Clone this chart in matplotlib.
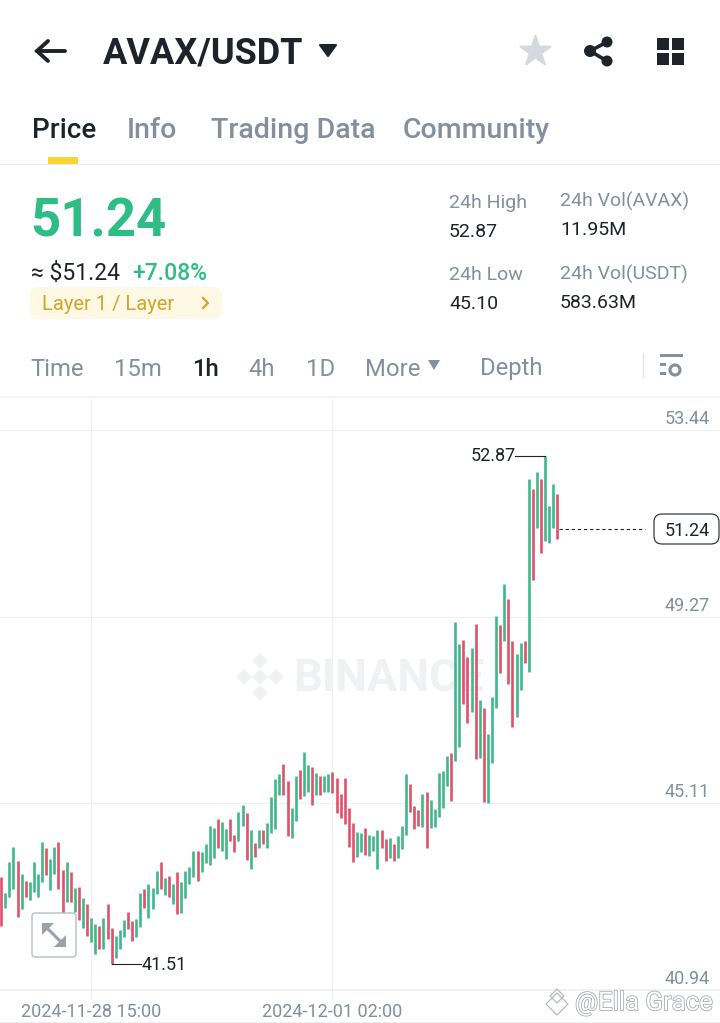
import matplotlib
matplotlib.use('Agg')
import matplotlib.pyplot as plt
import matplotlib.patheffects as pe
from matplotlib.patches import FancyBboxPatch, Polygon, Circle, Rectangle
import numpy as np

plt.rcParams['font.family'] = ['Roboto', 'DejaVu Sans']

# 1h candles, range of each bar
highs = [43.47,43.11,43.80,44.14,43.83,43.54,43.37,43.34,43.79,43.53,44.24,44.12,43.86,44.14,44.24,43.62,43.80,43.58,43.21,43.23,
         42.99,42.87,42.54,42.41,42.37,42.54,42.85,42.33,42.15,42.28,42.50,42.67,42.47,42.52,43.11,43.19,43.30,43.21,43.60,43.80,
         43.45,43.49,43.30,43.58,43.35,43.60,43.69,44.04,44.04,44.03,44.21,44.60,44.56,44.76,44.68,44.53,44.75,44.41,
         44.92,45.07,44.88,44.52,44.23,44.52,44.52,44.66,45.25,45.65,45.77,45.98,45.60,45.01,45.71,45.85,46.26,45.96,45.92,45.79,45.71,45.71,
         45.77,45.80,45.68,45.31,45.68,45.01,44.66,44.46,44.45,44.55,44.40,44.38,44.51,44.51,44.30,44.34,44.19,44.37,44.60,45.76,
         45.53,45.05,44.95,45.31,45.35,45.19,44.99,45.79,45.82,46.16,46.24,
         49.15,48.66,48.75,48.37,48.57,49.10,47.41,47.24,46.65,47.49,49.29,49.09,50.00,49.67,48.74,48.43,48.68,48.74,
         52.35,52.12,52.50,52.35,52.87,51.74,52.23,52.01]
lows = [42.37,42.76,43.01,43.19,42.56,42.74,43.01,42.95,43.13,43.01,43.34,43.50,43.17,43.54,43.19,42.55,42.91,42.91,42.69,42.50,
        42.32,42.15,42.02,41.74,41.86,41.86,42.08,41.51,41.65,41.86,42.13,42.30,42.03,42.13,42.34,42.76,42.54,42.74,43.08,43.19,
        43.05,43.01,42.85,42.64,42.65,42.99,43.31,43.47,43.37,43.57,43.78,43.72,43.88,44.12,44.04,43.86,44.27,44.01,
        44.27,44.60,43.84,43.65,43.91,44.10,44.19,44.12,44.45,44.53,45.29,45.29,44.37,44.34,44.72,45.21,45.27,45.35,45.08,45.29,45.29,45.36,
        45.35,45.33,44.89,44.78,44.64,44.14,43.79,43.90,44.01,43.95,43.94,44.04,43.65,44.10,43.82,43.88,43.82,43.88,44.08,44.40,
        44.92,44.53,44.60,44.58,44.10,44.56,44.58,44.81,45.01,45.50,45.16,
        46.05,46.37,47.32,46.89,47.15,46.09,46.11,45.14,45.11,46.01,47.24,48.01,48.73,47.77,46.82,47.03,47.64,48.25,
        48.03,50.09,51.25,50.70,50.96,50.91,51.25,51.01]
# g = up candle, r = down candle
directions = ("rgggrgrggggrggrrgrgrgrggrgrrgggrrggrgggrgrgrggggrggggrggrr"[:58]
              + "ggrgrgrggggrrggrggrgrggrrrrrrggrgggrrgrgggrrrgrgggggr"
              + "ggrrgrgrgggrgrrggrgrgrgggr")

price_ticks = [53.44, 49.27, 45.11, 40.94]
time_idx = [22, 81]
time_labels = ['2024-11-28 15:00', '2024-12-01 02:00']
high_idx, high_price = 133, 52.87
low_idx, low_price = 27, 41.51
last_price = 51.24

GREEN = '#2EBD85'
BAR_GREEN = '#3FB88B'
BAR_RED = '#E0526B'
DARK = '#1E2329'
GREY = '#848E9C'
LINE = '#EEF0F2'

fig = plt.figure(figsize=(7.2, 10.23), dpi=100, facecolor='white')


def px_axes(zorder):
    a = fig.add_axes([0, 0, 1, 1], zorder=zorder)
    a.set_xlim(0, 720)
    a.set_ylim(1023, 0)
    a.axis('off')
    return a


def diamond(a, cx, cy, r, **kw):
    a.add_patch(Polygon([(cx, cy - r), (cx + r, cy), (cx, cy + r), (cx - r, cy)], closed=True, **kw))


# watermark sits under the candles
bg = px_axes(0)
for dx, dy in [(0, -16), (16, 0), (0, 16), (-16, 0), (0, 0)]:
    diamond(bg, 260 + dx, 677 + dy, 8, fc='#EFF1F3', ec='none')
bg.text(293, 679, 'BINANCE', fontsize=32.5, fontweight='bold', color='#EFF1F3', va='center')

# chart
ax = fig.add_axes([0, 23 / 1023, 1, 603 / 1023], zorder=1)
ax.patch.set_alpha(0)
spacing = 4.09
ax.set_xlim(-1.2 / spacing, (720 - 1.2) / spacing)
ax.set_ylim(53.44 - (1000 - 430) / 44.8, 53.44 + (430 - 397) / 44.8)
for s in ax.spines.values():
    s.set_visible(False)
ax.set_yticks(price_ticks)
ax.set_yticklabels([])
ax.set_xticks(time_idx)
ax.set_xticklabels(time_labels, fontsize=13, color=GREY)
ax.tick_params(length=0, pad=2)
ax.grid(True, color=LINE, lw=0.8)
ax.set_axisbelow(True)

idx = np.arange(len(highs))
colors = [BAR_GREEN if d == 'g' else BAR_RED for d in directions]
ax.vlines(idx, lows, highs, colors=colors, lw=1.9, capstyle='butt')

for p in price_ticks:
    ax.annotate(f'{p:.2f}', (1, p), xycoords=ax.get_yaxis_transform(), xytext=(-7.5, 8),
                textcoords='offset points', ha='right', va='center', fontsize=13, color=GREY)

ax.plot([high_idx - 7.3, high_idx], [high_price, high_price], color=DARK, lw=0.8)
ax.annotate(f'{high_price:.2f}', (high_idx - 7.3, high_price), xytext=(0, -0.5), textcoords='offset points',
            ha='right', va='center', fontsize=13, color=DARK)
ax.plot([low_idx, low_idx + 7.2], [low_price, low_price], color=DARK, lw=0.8)
ax.annotate(f'{low_price:.2f}', (low_idx + 7.2, low_price), xytext=(0, -0.5), textcoords='offset points',
            ha='left', va='center', fontsize=13, color=DARK)
ax.plot([136.3, 157.3], [last_price, last_price], color=DARK, lw=0.8, dashes=(3, 2.5))

# everything around the chart, in pixels
ui = px_axes(2)
ui.add_patch(Rectangle((0, 163.5), 720, 1, fc='#E9EBEE', ec='none'))
ui.add_patch(Rectangle((0, 395.5), 720, 2, fc='#F3F4F6', ec='none'))
ui.add_patch(Rectangle((0, 989), 720, 2, fc='#F1F2F4', ec='none'))
ui.add_patch(Rectangle((0, 1021.5), 720, 1.5, fc='#EEF0F2', ec='none'))

# header
ui.plot([37, 65], [51, 51], color=DARK, lw=2.8, solid_capstyle='round')
ui.plot([48, 37, 48], [41, 51, 61], color=DARK, lw=2.8, solid_capstyle='round', solid_joinstyle='miter')
ui.text(103, 54, 'AVAX/USDT', fontsize=26, fontweight='bold', color=DARK, va='center')
ui.add_patch(Polygon([(320, 45), (336, 45), (328, 56)], closed=True, fc=DARK, ec=DARK, lw=1.5, joinstyle='round'))
ui.scatter([535], [51], marker='*', s=520, color='#D5D9DE', lw=1.5, edgecolors='#D5D9DE')
for cx, cy in [(607, 42), (607, 61)]:
    ui.plot([590, cx], [51, cy], color=DARK, lw=2.6)
    ui.add_patch(Circle((cx, cy), 5.5, fc=DARK, ec='none'))
ui.add_patch(Circle((590, 51), 6, fc=DARK, ec='none'))
for x0, y0 in [(657, 38), (672, 38), (657, 53), (672, 53)]:
    ui.add_patch(Rectangle((x0, y0), 12, 11.5, fc=DARK, ec='none'))

# tabs
ui.text(32, 130, 'Price', fontsize=20, fontweight='medium', color=DARK, va='center')
for tab_x, tab in [(127, 'Info'), (211, 'Trading Data'), (403, 'Community')]:
    ui.text(tab_x, 130, tab, fontsize=20.5, fontweight='medium', color=GREY, va='center')
ui.add_patch(Rectangle((48, 157), 30, 6.5, fc='#FCD535', ec='none'))

# price block
ui.text(30, 222, '51.24', fontsize=38, fontweight='bold', color=GREEN, va='center')
ui.text(31, 274, '≈ $51.24', fontsize=16.5, color=DARK, va='center')
ui.text(132, 274, '+7.08%', fontsize=16.5, fontweight='medium', color=GREEN, va='center')
ui.add_patch(FancyBboxPatch((36, 293), 180, 20, boxstyle='round,pad=6,rounding_size=8', fc='#FEF8E5', ec='none'))
ui.text(42, 305, 'Layer 1 / Layer', fontsize=14.5, color='#D0A52C', va='center')
ui.plot([203, 208, 203], [298, 303, 308], color='#D0A52C', lw=1.6)

# 24h stats
for sx, sy, label, val in [(449, 203, '24h High', '52.87'), (449, 275, '24h Low', '45.10'),
                           (560, 201, '24h Vol(AVAX)', '11.95M'), (560, 274, '24h Vol(USDT)', '583.63M')]:
    ui.text(sx, sy, label, fontsize=14, color=GREY, va='center')
    ui.text(sx, sy + 29, val, fontsize=14, color=DARK, va='center')

# interval row
for tx, name in [(30, 'Time'), (114, '15m'), (248, '4h'), (306, '1D'), (365, 'More'), (480, 'Depth')]:
    ui.text(tx, 369, name, fontsize=17.2, color=GREY, va='center')
ui.text(192, 369, '1h', fontsize=17.2, fontweight='medium', color=DARK, va='center')
ui.add_patch(Polygon([(428, 360), (440, 360), (434, 370)], closed=True, fc=GREY, ec='none'))
ui.plot([642.5, 642.5], [353, 377], color='#E3E5E8', lw=1)
ui.add_patch(Rectangle((660, 354), 23, 3, fc=GREY, ec='none'))
ui.add_patch(Rectangle((660, 363), 6, 3, fc=GREY, ec='none'))
ui.add_patch(Rectangle((660, 372), 6, 3, fc=GREY, ec='none'))
ui.add_patch(Circle((675, 370), 5, fc='white', ec=GREY, lw=2.2))

# last price tag
ui.add_patch(FancyBboxPatch((658, 518), 57, 22, boxstyle='round,pad=4,rounding_size=8', fc='white', ec=DARK, lw=0.8))
ui.text(687, 531, f'{last_price:.2f}', fontsize=13, color=DARK, ha='center', va='center')

# expand button
ui.add_patch(FancyBboxPatch((35, 916), 38, 38, boxstyle='round,pad=3,rounding_size=3', fc='white', ec='#B7BDC6', lw=1))
ui.add_patch(Polygon([(42, 923), (54, 923), (42, 935)], closed=True, fc='#9AA1AC', ec='none'))
ui.add_patch(Polygon([(66, 947), (54, 947), (66, 935)], closed=True, fc='#9AA1AC', ec='none'))
ui.plot([44, 64], [925, 945], color='#9AA1AC', lw=2.2)

# corner credit
for cx, cy, r in [(557, 1004, 11), (557, 996, 7)]:
    diamond(ui, cx, cy, r, fc='none', ec='#B4B9C0', lw=0.9)
ui.text(575, 1003, '@Ella Grace', fontsize=18.5, color='white', va='center',
        path_effects=[pe.withStroke(linewidth=1.2, foreground='#A5ABB3')])

fig.savefig('out.png', dpi=100)
